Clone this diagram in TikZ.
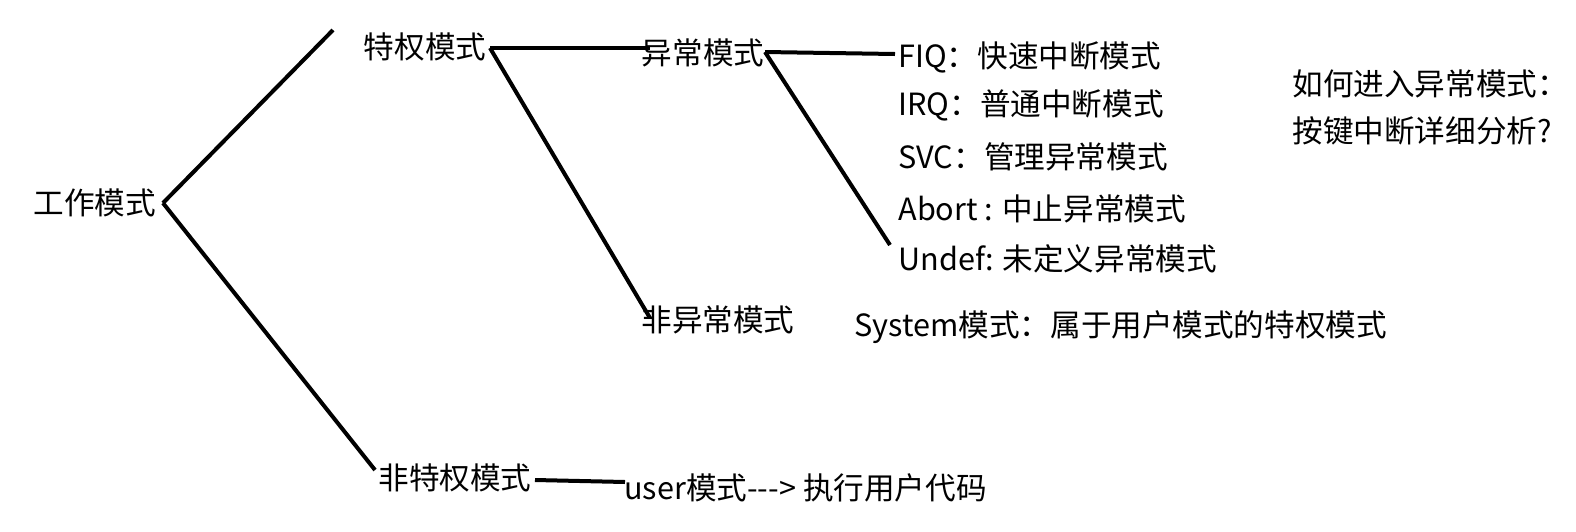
\documentclass[tikz,border=0pt]{standalone}
\usepackage{fontspec}
\setmainfont{Noto Sans CJK SC}
\begin{document}
\begin{tikzpicture}[x=0.5pt,y=-0.5pt,
  lbl/.style={font=\fontsize{15.3}{17}\selectfont, inner sep=0pt},
  ln/.style={line width=2pt, black}]
\useasboundingbox (0,0) rectangle (1576,531);
\node[lbl] (work) at (95,203) {工作模式};
\node[lbl] (priv) at (425,47) {特权模式};
\node[lbl] (exc) at (703,53) {异常模式};
\node[lbl] (nexc) at (718,320) {非异常模式};
\node[lbl] (npriv) at (455,478) {非特权模式};
\node[lbl,anchor=west] (fiq) at (898,57) {FIQ：快速中断模式};
\node[lbl,anchor=west] (irq) at (898,105) {IRQ：普通中断模式};
\node[lbl,anchor=west] (svc) at (898,157) {SVC：管理异常模式};
\node[lbl,anchor=west] (abort) at (898,209) {Abort : 中止异常模式};
\node[lbl,anchor=west] (undef) at (898,259) {Undef: 未定义异常模式};
\node[lbl,anchor=west] (sys) at (854,327) {System模式：属于用户模式的特权模式};
\node[lbl,anchor=west] (how) at (1292,84) {如何进入异常模式：};
\node[lbl,anchor=west] (key) at (1292,131) {按键中断详细分析?};
\node[lbl,anchor=west] (user) at (624,488) {user模式{-}{-}{-}> 执行用户代码};
\coordinate (w) at (163,203);
\coordinate (top) at (333,30);
\coordinate (p) at (490,48);
\coordinate (pe) at (650,48);
\coordinate (e) at (765,52);
\coordinate (ef) at (895,54);
\coordinate (nx) at (650,318);
\coordinate (un) at (890,245);
\coordinate (np) at (535,480);
\coordinate (us) at (625,482);
\draw[ln] (w) -- (top);
\draw[ln] (w) -- (375,470);
\draw[ln] (p) -- (pe);
\draw[ln] (p) -- (nx);
\draw[ln] (e) -- (ef);
\draw[ln] (e) -- (un);
\draw[ln] (np) -- (us);
\end{tikzpicture}
\end{document}
